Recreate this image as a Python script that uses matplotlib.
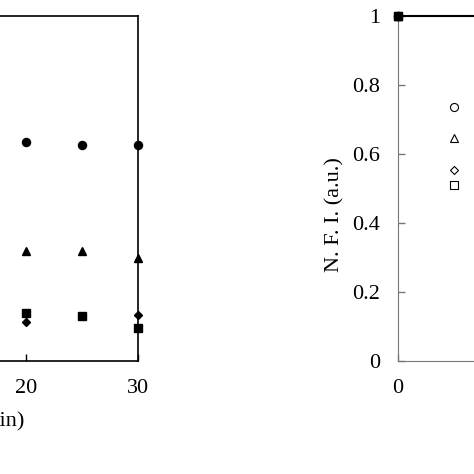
import matplotlib.pyplot as plt

plt.rcParams['font.family'] = ['Liberation Serif', 'DejaVu Serif']

# left panel (filled markers), time in min
t_left = [20, 25, 30]
circ_left = [0.636, 0.627, 0.627]
tri_left = [0.32, 0.32, 0.30]
sq_left = [0.14, 0.131, 0.096]
dia_left_t = [20, 30]
dia_left = [0.114, 0.134]

# right panel (open markers)
t_right = [0, 5]
circ_right = [1.0, 0.738]
tri_right = [1.0, 0.648]
dia_right = [1.0, 0.555]
sq_right = [1.0, 0.512]

xticks = [0, 10, 20, 30]
yticks = [0, 0.2, 0.4, 0.6, 0.8, 1]
ytick_labels = ['0', '0.2', '0.4', '0.6', '0.8', '1']

fig = plt.figure(figsize=(4.74, 4.74), dpi=100)

bottom = 0.2384
height = 0.7268
width = 0.7089

# left axes, mostly outside the figure on the left
ax1 = fig.add_axes([0.2911 - width, bottom, width, height])
ax1.plot(t_left, circ_left, 'o', color='black', ms=5.8, clip_on=False)
ax1.plot(t_left, tri_left, '^', color='black', ms=5.8, clip_on=False)
ax1.plot(dia_left_t, dia_left, 'D', color='black', ms=4.2, clip_on=False)
ax1.plot(t_left, sq_left, 's', color='black', ms=5.4, clip_on=False)
ax1.set_xlim(0, 30)
ax1.set_ylim(0, 1)
ax1.set_xticks(xticks)
ax1.set_yticks(yticks)
ax1.tick_params(direction='in', length=5, width=1, labelsize=16, pad=13)
ax1.set_xlabel('Time (min)', fontsize=16)
ax1.xaxis.set_label_coords(0.512, -0.148)
for s in ax1.spines.values():
    s.set_linewidth(1.2)

# right axes, mostly outside the figure on the right
ax2 = fig.add_axes([0.8397, bottom, width, height])
series = [(circ_right, 'o', 5.8), (tri_right, '^', 5.8),
          (dia_right, 'D', 4.2), (sq_right, 's', 5.4)]
for vals, m, ms in series:
    ax2.plot(t_right, vals, m, mfc='white', mec='black', mew=0.8, ms=ms,
             clip_on=False)
    # overlapping points at t = 0 look solid in the original
    ax2.plot(t_right[:1], vals[:1], m, mfc='black', mec='black', ms=ms,
             clip_on=False, zorder=3)
ax2.set_xlim(0, 30)
ax2.set_ylim(0, 1)
ax2.set_xticks(xticks)
ax2.set_yticks(yticks)
ax2.set_yticklabels(ytick_labels)
ax2.tick_params(direction='in', length=5, width=1, labelsize=16, pad=13,
                color='#777777')
ax2.set_ylabel('N. F. I. (a.u.)', fontsize=16)
ax2.yaxis.set_label_coords(-0.158, 0.424)
ax2.spines['left'].set_color('#777777')
ax2.spines['bottom'].set_color('#777777')
ax2.spines['top'].set_linewidth(1.5)

fig.savefig('out.png', dpi=100)
